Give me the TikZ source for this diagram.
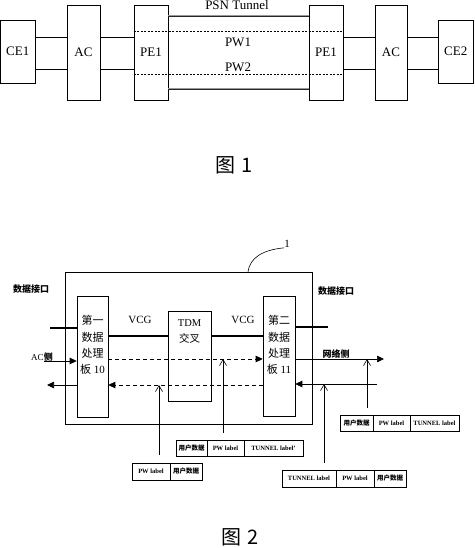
\documentclass[tikz,border=0pt]{standalone}
\usepackage{fontspec}
\setmainfont{Liberation Serif}
\newfontfamily\cjk{Noto Sans CJK SC}
\usetikzlibrary{arrows.meta,calc}
\begin{document}
\begin{tikzpicture}[x=1pt,y=-1pt,
  box/.style={draw,line width=0.6pt,inner sep=0pt,font=\fontsize{13}{15}\selectfont},
  conn/.style={line width=0.6pt},
  tunnel/.style={draw=black!85,double=black!40,double distance=1pt,line width=0.8pt},
  pwline/.style={line width=0.6pt,dash pattern=on 2pt off 1.5pt},
  lbl/.style={inner sep=0pt,font=\fontsize{13}{15}\selectfont},
  bus/.style={line width=2.2pt},
  farr/.style={line width=0.7pt,-{Triangle[length=7pt,width=6.5pt]}},
  darr/.style={line width=0.7pt,dash pattern=on 4pt off 3pt,-{Triangle[length=7pt,width=6.5pt]}},
  varr/.style={line width=0.6pt,-{Straight Barb[length=6pt,width=7pt]}},
  cell/.style={draw,line width=0.6pt,inner sep=0pt,font=\fontsize{6.5}{7}\selectfont\bfseries},
  small/.style={inner sep=0pt,font=\fontsize{9}{10}\selectfont\cjk\bfseries},
  board/.style={draw,line width=0.6pt,inner sep=0pt},
]
\useasboundingbox (0,0) rectangle (474,548);
% ---------------- Figure 1 ----------------
\node[box,minimum width=35pt,minimum height=63pt] (ce1) at (17.8,51.5) {CE1};
\node[box,minimum width=33pt,minimum height=95pt] (ac1) at (83.5,52.5) {AC};
\node[box,minimum width=34pt,minimum height=95pt] (pe1) at (151,52.5) {PE1};
\node[box,minimum width=34pt,minimum height=95pt] (pe2) at (326,52.5) {PE1};
\node[box,minimum width=32pt,minimum height=95pt] (ac2) at (391,52.5) {AC};
\node[box,minimum width=35pt,minimum height=63pt] (ce2) at (455.7,51.5) {CE2};
\foreach \a/\b in {ce1/ac1,ac1/pe1,pe2/ac2,ac2/ce2}{
  \draw[conn] (\a.east |- 0,37) -- (\b.west |- 0,37);
  \draw[conn] (\a.east |- 0,69) -- (\b.west |- 0,69);
}
\draw[tunnel] (pe1.east |- 0,16) -- (pe2.west |- 0,16);
\draw[tunnel] (pe1.east |- 0,89) -- (pe2.west |- 0,89);
\draw[pwline] (pe1.west |- 0,31) -- (pe2.east |- 0,31);
\draw[pwline] (pe1.west |- 0,74) -- (pe2.east |- 0,74);
\node[lbl] (psn) at (237,5) {PSN Tunnel};
\node[lbl] (pw1) at (238,42) {PW1};
\node[lbl] (pw2) at (238,67) {PW2};
\node[inner sep=0pt,font=\fontsize{20}{22}\selectfont\cjk] (cap1) at (234,165) {图\,\,1};
% ---------------- Figure 2 ----------------
\node[board,minimum width=247pt,minimum height=152pt] (dev) at (188.5,348) {};
\node[board,minimum width=31pt,minimum height=121pt] (b1) at (92.5,356.5) {};
\node[board,minimum width=43pt,minimum height=90pt] (tdm) at (189.5,356) {};
\node[board,minimum width=32pt,minimum height=120pt] (b2) at (279,356) {};
\node[inner sep=0pt,align=center,font=\fontsize{11}{16.2}\selectfont] (b1t) at (92.5,345)
  {{\cjk 第一}\\{\cjk 数据}\\{\cjk 处理}\\{\cjk 板} 10};
\node[inner sep=0pt,align=center,font=\fontsize{11}{16.2}\selectfont] (b2t) at (279,345)
  {{\cjk 第二}\\{\cjk 数据}\\{\cjk 处理}\\{\cjk 板} 11};
\node[inner sep=0pt,align=center,font=\fontsize{10.5}{16}\selectfont] (tdmt) at (189.5,331)
  {TDM\\{\cjk 交叉}};
\node[inner sep=0pt,font=\fontsize{11}{12}\selectfont] (vcg1) at (140,320) {VCG};
\node[inner sep=0pt,font=\fontsize{11}{12}\selectfont] (vcg2) at (243,320) {VCG};
\node[inner sep=0pt,font=\fontsize{11}{12}\selectfont] (one) at (287,244) {1};
\draw[conn] (dev.north -| 248,0) .. controls (250,258) and (262,250) .. (one.south west);
\node[small] (dil) at (31,289) {数据接口};
\node[small] (dir) at (336,291) {数据接口};
% buses
\coordinate (busL) at (50,328);
\coordinate (busR) at (328,327);
\draw[bus] (busL) -- (b1.west |- busL);
\draw[bus] (b1.east |- 0,336) -- (tdm.west |- 0,336);
\draw[bus] (tdm.east |- 0,336) -- (b2.west |- 0,336);
\draw[bus] (b2.east |- busR) -- (busR);
% horizontal flows
\coordinate (acin) at (44,361);
\coordinate (acout) at (47,385);
\coordinate (netout) at (384,359);
\coordinate (netin) at (377,384);
\node[inner sep=0pt,font=\fontsize{9}{10}\selectfont] (acl) at (42,357) {AC{\cjk\bfseries 侧}};
\node[small] (netl) at (336,354) {网络侧};
\draw[farr] (acin) -- (b1.west |- acin);
\draw[farr] (b1.west |- acout) -- (acout);
\draw[darr] (b1.east |- 0,359) -- (b2.west |- 0,359);
\draw[darr] (b2.west |- 0,385) -- (b1.east |- 0,385);
\draw[farr] (b2.east |- netout) -- (netout);
\draw[farr] (netin) -- (b2.east |- netin);
% packets
\node[cell,minimum width=38pt,minimum height=17pt] (p1a) at (151,471.5) {PW label};
\node[cell,minimum width=32pt,minimum height=17pt] (p1b) at (186,471.5) {\cjk 用户数据};
\node[cell,minimum width=31pt,minimum height=16pt] (p2a) at (191.5,448) {\cjk 用户数据};
\node[cell,minimum width=37pt,minimum height=16pt] (p2b) at (225.5,448) {PW label};
\node[cell,minimum width=59pt,minimum height=16pt] (p2c) at (273.5,448) {TUNNEL label'};
\node[cell,minimum width=33pt,minimum height=16pt] (p3a) at (356.5,423) {\cjk 用户数据};
\node[cell,minimum width=37pt,minimum height=16pt] (p3b) at (391.5,423) {PW label};
\node[cell,minimum width=49pt,minimum height=16pt] (p3c) at (434.5,423) {TUNNEL label};
\node[cell,minimum width=54pt,minimum height=17pt] (p4a) at (309,478.5) {TUNNEL label};
\node[cell,minimum width=38pt,minimum height=17pt] (p4b) at (355,478.5) {PW label};
\node[cell,minimum width=32pt,minimum height=17pt] (p4c) at (390,478.5) {\cjk 用户数据};
% vertical arrows
\draw[varr] ($(p1a.north -| 159,0)+(0,-8)$) -- (159,0 |- acout);
\draw[varr] ($(p2b.north -| 223,0)+(0,-7)$) -- (223,359);
\draw[varr] ($(p3a.north -| 367,0)+(0,-7)$) -- (367,0 |- netout);
\draw[varr] ($(p4a.north -| 324,0)+(0,-7)$) -- (324,0 |- netin);
\node[inner sep=0pt,font=\fontsize{20}{22}\selectfont\cjk] (cap2) at (240,537) {图\,\,2};
\end{tikzpicture}
\end{document}
